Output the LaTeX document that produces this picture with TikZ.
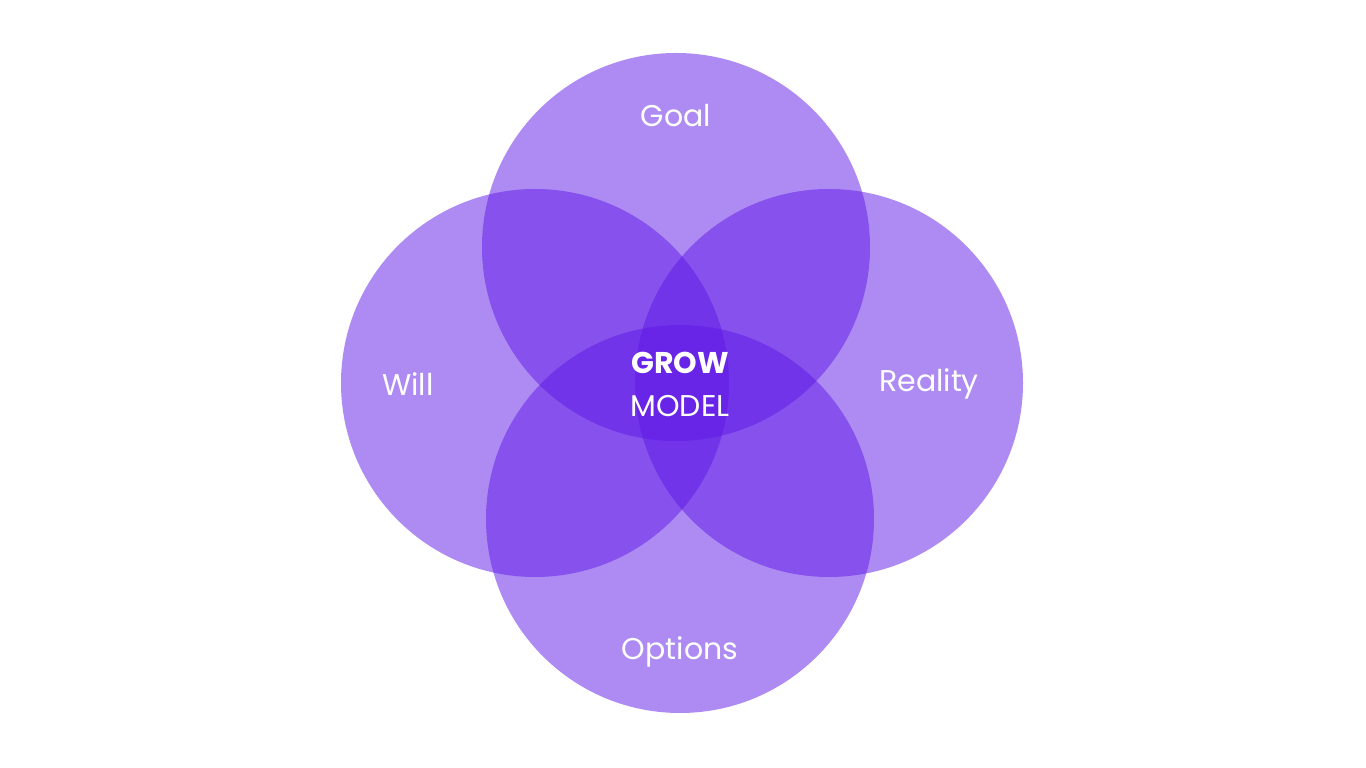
\documentclass[tikz,border=0pt]{standalone}
\usepackage{fontspec}
\setmainfont{Poppins}
\begin{document}
\begin{tikzpicture}[x=1pt,y=1pt,
  petal/.style={circle,minimum size=388pt,inner sep=0pt,fill={rgb,255:red,95;green,24;blue,231},fill opacity=0.5,text opacity=1},
  lbl/.style={text=white,font=\fontsize{30}{34}\selectfont}]
\useasboundingbox (0,0) rectangle (1366,768);
\fill[white] (0,0) rectangle (1366,768);
\node[petal] (goal) at (676,521) {};
\node[petal] (will) at (535,385) {};
\node[petal] (reality) at (829,385) {};
\node[petal] (options) at (680,249) {};
\node[lbl] (tg) at (676,652) {Goal};
\node[lbl] (tw) at (408,384) {Will};
\node[lbl] (tr) at (929,384) {Reality};
\node[lbl] (to) at (680,116) {Options};
\node[lbl,font=\fontsize{30}{34}\selectfont\bfseries] (grow) at (680,405) {GROW};
\node[lbl] (model) at (680,362) {MODEL};
\end{tikzpicture}
\end{document}
